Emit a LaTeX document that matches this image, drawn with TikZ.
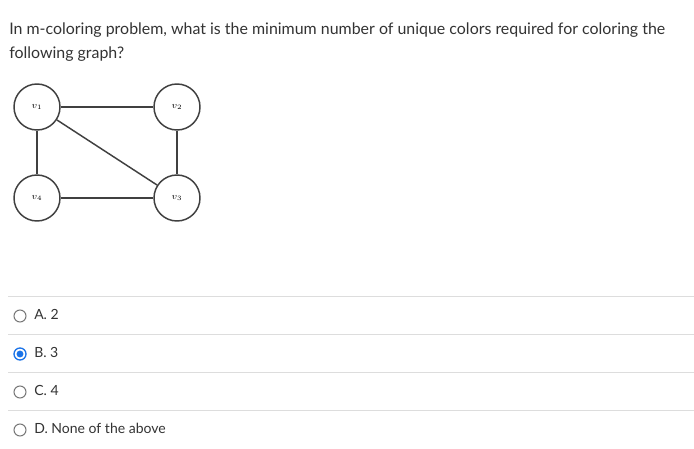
\documentclass[tikz,border=0pt]{standalone}
\usepackage{fontspec}
\setmainfont{Lato}
\definecolor{txt}{HTML}{333333}
\definecolor{sep}{HTML}{DDDDDD}
\definecolor{radio}{HTML}{777777}
\definecolor{sel}{HTML}{1A73E8}
\begin{document}
\begin{tikzpicture}[x=0.75pt,y=-0.75pt,
  vert/.style={circle,draw=black!75,line width=1.1pt,minimum size=34.5pt,inner sep=0pt,font=\fontsize{7.2}{8}\selectfont},
  edge/.style={draw=black!75,line width=1.1pt},
  qtext/.style={anchor=base west,inner sep=0pt,text=txt,font=\fontsize{11.95}{14}\selectfont},
  opt/.style={anchor=base west,inner sep=0pt,text=txt,font=\fontsize{10.5}{13}\selectfont},
  sepline/.style={draw=sep,line width=0.75pt},
  radiobtn/.style={circle,draw=radio,line width=0.75pt,minimum size=9pt,inner sep=0pt}]
\useasboundingbox (0,0) rectangle (694,449);
\fill[white] (0,0) rectangle (694,449);
\node[qtext] (q1) at (9,35) {In m-coloring problem, what is the minimum number of unique colors required for coloring the};
\node[qtext] (q2) at (9,59) {following graph?};
% graph
\node[vert] (v1) at (37,107) {$v_1$};
\node[vert] (v2) at (177,107) {$v_2$};
\node[vert] (v3) at (177,198) {$v_3$};
\node[vert] (v4) at (37,198) {$v_4$};
\draw[edge] (v1) -- (v2);
\draw[edge] (v2) -- (v3);
\draw[edge] (v3) -- (v4);
\draw[edge] (v4) -- (v1);
\draw[edge] (v1) -- (v3);
% separators
\coordinate (s1a) at (8,297); \coordinate (s1b) at (694,297);
\coordinate (s2a) at (8,335); \coordinate (s2b) at (694,335);
\coordinate (s3a) at (8,373); \coordinate (s3b) at (694,373);
\coordinate (s4a) at (8,411); \coordinate (s4b) at (694,411);
\draw[sepline] (s1a) -- (s1b);
\draw[sepline] (s2a) -- (s2b);
\draw[sepline] (s3a) -- (s3b);
\draw[sepline] (s4a) -- (s4b);
% options
\node[radiobtn] (ra) at (20,316) {};
\node[radiobtn,draw=sel,line width=1pt] (rb) at (20,354) {};
\fill[sel] (rb.center) circle (2.6pt);
\node[radiobtn] (rc) at (20,392) {};
\node[radiobtn] (rd) at (20,430) {};
\node[opt] (a) at (34,320) {A. 2};
\node[opt] (b) at (34,358) {B. 3};
\node[opt] (c) at (34,396) {C. 4};
\node[opt] (d) at (34,434) {D. None of the above};
\end{tikzpicture}
\end{document}
